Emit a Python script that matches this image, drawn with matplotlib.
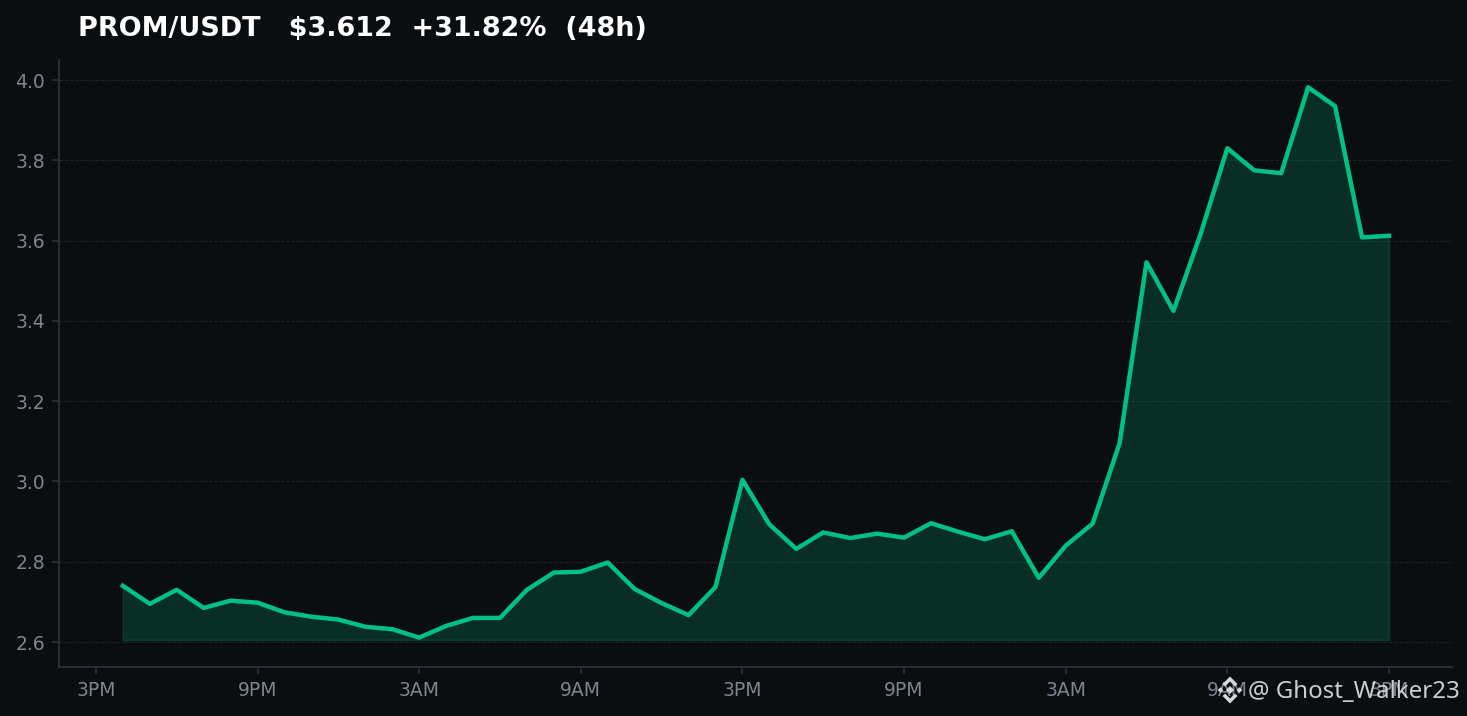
import matplotlib
matplotlib.use("Agg")
import matplotlib.pyplot as plt
from matplotlib.patches import Polygon

W, H = 1467, 716

# hourly closes
hours = list(range(1, 49))
prices = [2.740, 2.695, 2.730, 2.685, 2.703, 2.698, 2.674, 2.663, 2.656, 2.638,
          2.632, 2.611, 2.640, 2.660, 2.660, 2.730, 2.773, 2.775, 2.798, 2.732,
          2.697, 2.667, 2.737, 3.004, 2.893, 2.832, 2.873, 2.859, 2.870, 2.860,
          2.896, 2.875, 2.856, 2.876, 2.760, 2.840, 2.895, 3.095, 3.546, 3.425,
          3.615, 3.830, 3.775, 3.768, 3.982, 3.935, 3.608, 3.612]
base_price = 2.605
tick_hours = [0, 6, 12, 18, 24, 30, 36, 42, 48]
tick_labels = ["3PM", "9PM", "3AM", "9AM", "3PM", "9PM", "3AM", "9AM", "3PM"]
y_ticks = [2.6, 2.8, 3.0, 3.2, 3.4, 3.6, 3.8, 4.0]

BG = "#0b0e11"
GREEN = "#00c087"
GREY = "#7d8590"
SPINE = "#2b3139"

fig = plt.figure(figsize=(W / 100, H / 100), dpi=100, facecolor=BG)
ax = fig.add_axes([59 / W, 1 - 667 / H, (1452 - 59) / W, (667 - 60) / H], facecolor=BG)

ax.fill_between(hours, prices, base_price, facecolor=GREEN, alpha=0.18, edgecolor=GREEN, linewidth=1.2)
ax.plot(hours, prices, color=GREEN, linewidth=3.2)

ax.set_xlim(-1.37, 50.34)
ax.set_ylim(2.6 - 25 / 401.4, 2.6 + 582 / 401.4)
ax.set_xticks(tick_hours)
ax.set_xticklabels(tick_labels)
ax.set_yticks(y_ticks)
ax.set_yticklabels([f"{v:.1f}" for v in y_ticks])
ax.tick_params(colors=GREY, labelsize=13.5, color=SPINE, length=5, width=1.2, pad=5)
ax.grid(True, axis="y", color=SPINE, linestyle="--", linewidth=0.7, alpha=0.6)
ax.set_axisbelow(True)

for side in ["top", "right"]:
    ax.spines[side].set_visible(False)
for side in ["left", "bottom"]:
    ax.spines[side].set_color(SPINE)
    ax.spines[side].set_linewidth(1.3)

fig.text(78 / W, 1 - 35.5 / H, "PROM/USDT   $3.612  +31.82%  (48h)", family="DejaVu Sans",
         color="white", fontsize=19.45, fontweight="bold", ha="left", va="baseline")

# watermark
LOGO = "#d5d8dc"
lx, ly = 1230, 690

def add_poly(pts):
    fig.add_artist(Polygon([((lx + dx) / W, 1 - (ly + dy) / H) for dx, dy in pts], closed=True,
                           transform=fig.transFigure, facecolor=LOGO, edgecolor="none"))

for cx, r in [(0, 4), (-9.5, 2.8), (9.5, 2.8)]:
    add_poly([(cx + r, 0), (cx, r), (cx - r, 0), (cx, -r)])
for sy in (-1, 1):
    add_poly([(0, 13.5 * sy), (7.5, 6 * sy), (5, 3.5 * sy), (0, 8.5 * sy), (-5, 3.5 * sy), (-7.5, 6 * sy)])

fig.text(1248 / W, 1 - 698 / H, "@ Ghost_Walker23", color=LOGO, fontsize=17.3,
         family="Noto Sans", ha="left", va="baseline", alpha=0.95)

fig.savefig("out.png", dpi=100, facecolor=BG)
